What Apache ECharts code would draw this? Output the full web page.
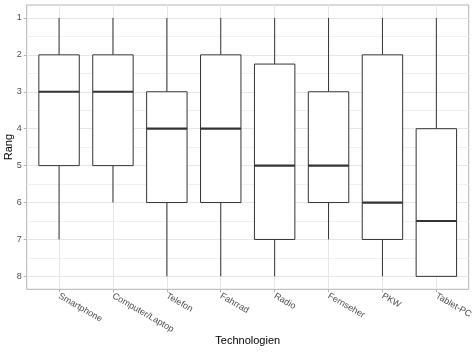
<!DOCTYPE html>
<html><head><meta charset="utf-8">
<script src="https://cdn.jsdelivr.net/npm/echarts@6/dist/echarts.min.js"></script>
<style>html,body{margin:0;padding:0;background:#fff}#c{width:474px;height:353px}</style>
</head><body><div id="c"></div>
<script>
var categories = ['Smartphone','Computer/Laptop','Telefon','Fahrrad','Radio','Fernseher','PKW','Tablet-PC'];
var whiskerLow = [1, 1, 1, 1, 1, 1, 1, 1];
var q1 = [2, 2, 3, 2, 2.25, 3, 2, 4];
var median = [3, 3, 4, 4, 5, 5, 6, 6.5];
var q3 = [5, 5, 6, 6, 7, 6, 7, 8];
var whiskerHigh = [7, 6, 8, 8, 8, 7, 8, 8];
var yTicks = [1, 2, 3, 4, 5, 6, 7, 8];
var yMinor = [1.5, 2.5, 3.5, 4.5, 5.5, 6.5, 7.5];
var xTicks = [1, 2, 3, 4, 5, 6, 7, 8];

var boxData = categories.map(function (c, i) {
  return [i, whiskerLow[i], q1[i], median[i], q3[i], whiskerHigh[i]];
});

var font = 'Liberation Sans, Arial, sans-serif';
var chart = echarts.init(document.getElementById('c'), null, {renderer: 'canvas'});

function renderBox(params, api) {
  var idx = api.value(0);
  var pLow = api.coord([idx, api.value(1)]);
  var pQ1 = api.coord([idx, api.value(2)]);
  var pMed = api.coord([idx, api.value(3)]);
  var pQ3 = api.coord([idx, api.value(4)]);
  var pHigh = api.coord([idx, api.value(5)]);
  var bw = api.size([1, 0])[0] * 0.75;
  var x = pMed[0];
  var stroke = {stroke: '#333333', lineWidth: 1, fill: null};
  return {
    type: 'group',
    children: [
      {type: 'line', shape: {x1: x, y1: pLow[1], x2: x, y2: pQ1[1]}, style: stroke},
      {type: 'line', shape: {x1: x, y1: pQ3[1], x2: x, y2: pHigh[1]}, style: stroke},
      {type: 'rect', shape: {x: x - bw / 2, y: Math.min(pQ1[1], pQ3[1]), width: bw, height: Math.abs(pQ3[1] - pQ1[1])},
       style: {fill: '#ffffff', stroke: '#333333', lineWidth: 1}},
      {type: 'line', shape: {x1: x - bw / 2, y1: pMed[1], x2: x + bw / 2, y2: pMed[1]},
       style: {stroke: '#333333', lineWidth: 2.2}}
    ]
  };
}

chart.setOption({
  backgroundColor: '#ffffff',
  animation: false,
  grid: [
    {left: 26.7, right: 5.3, top: 5, bottom: 63.7, show: true, borderColor: '#b3b3b3', borderWidth: 1,
     backgroundColor: 'transparent', outerBoundsMode: 'none', containLabel: false},
    {left: 32.1, right: 10.7, top: 5, bottom: 63.7, show: false, outerBoundsMode: 'none', containLabel: false}
  ],
  xAxis: [
    {type: 'value', gridIndex: 0, min: 0.4, max: 8.6,
     name: 'Technologien', nameLocation: 'middle', nameGap: 46, nameMoveOverlap: false,
     nameTextStyle: {color: '#000', fontSize: 11, fontFamily: font},
     axisLine: {show: false},
     axisTick: {show: true, length: 3, lineStyle: {color: '#b3b3b3', width: 1}, customValues: xTicks},
     axisLabel: {show: true, customValues: xTicks, rotate: -30, margin: 6, color: '#4d4d4d', fontSize: 9, fontFamily: font,
       formatter: function (v) { return categories[Math.round(v) - 1] || ''; }},
     splitLine: {show: true, lineStyle: {color: '#e6e6e6', width: 1}}
    },
    {type: 'category', gridIndex: 1, data: categories, boundaryGap: true, show: false}
  ],
  yAxis: [
    {type: 'value', gridIndex: 0, min: 0.65, max: 8.35, inverse: true,
     name: 'Rang', nameLocation: 'middle', nameGap: 12.5, nameRotate: 90, nameMoveOverlap: false,
     nameTextStyle: {color: '#000', fontSize: 11, fontFamily: font},
     axisLine: {show: false},
     axisTick: {show: true, length: 3, lineStyle: {color: '#b3b3b3', width: 1}, customValues: yTicks},
     axisLabel: {show: true, customValues: yTicks, margin: 5, color: '#4d4d4d', fontSize: 9, fontFamily: font},
     splitLine: {show: true, lineStyle: {color: '#e6e6e6', width: 1}}
    },
    {type: 'value', gridIndex: 0, min: 0.65, max: 8.35, inverse: true, position: 'left',
     axisLine: {show: false}, axisLabel: {show: false},
     axisTick: {show: true, length: 0, lineStyle: {color: 'rgba(0,0,0,0)'}, customValues: yMinor},
     splitLine: {show: true, lineStyle: {color: '#f0f0f0', width: 1}}
    },
    {type: 'value', gridIndex: 1, min: 0.65, max: 8.35, inverse: true, show: false, splitLine: {show: false}}
  ],
  series: [
    {type: 'custom', xAxisIndex: 1, yAxisIndex: 2, data: boxData, renderItem: renderBox,
     encode: {x: 0, y: [1, 2, 3, 4, 5]}, clip: false, silent: true, z: 3}
  ]
});
</script></body></html>
